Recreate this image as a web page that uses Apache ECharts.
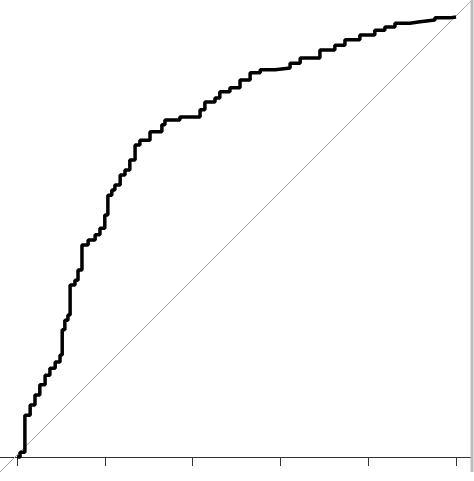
<!DOCTYPE html><html><head><meta charset="utf-8"><script src="https://cdn.jsdelivr.net/npm/echarts@6/dist/echarts.min.js"></script>
<style>html,body{margin:0;padding:0;background:#fff}#c{width:474px;height:481px}</style></head><body><div id="c"></div><script>
const fpr=[0,.007,.018,.018,.030,.041,.052,.064,.075,.087,.098,.103,.109,.116,.121,.132,.139,.148,.148,.162,.178,.189,.200,.207,.216,.223,.235,.246,.257,.269,.280,.303,.330,.337,.371,.417,.428,.451,.462,.485,.508,.531,.554,.588,.622,.645,.690,.724,.747,.781,.815,.838,.861,.895,.918,.952,.986,1];
const tpr=[0,.011,.016,.095,.118,.141,.164,.186,.202,.216,.232,.289,.311,.323,.391,.402,.425,.443,.482,.493,.505,.520,.550,.595,.607,.618,.641,.652,.675,.709,.720,.739,.755,.766,.773,.789,.807,.816,.830,.839,.857,.873,.880,.884,.895,.907,.925,.936,.948,.959,.970,.977,.986,.989,.993,.998,1,1];
const xTicks=[0,0.2,0.4,0.6,0.8,1];
const lo=-0.0387,hi=1.0364,ylo=-0.034,yhi=1.0386;
const chart=echarts.init(document.getElementById('c'));
chart.setOption({animation:false,
grid:{left:0,right:2,top:0,bottom:9,containLabel:false,outerBoundsMode:'none'},
xAxis:{type:'value',min:lo,max:hi,axisLabel:{show:false},splitLine:{show:false},
 axisLine:{lineStyle:{color:'#333',width:1}},axisTick:{show:true,length:9,lineStyle:{color:'#333'},customValues:xTicks}},
yAxis:{type:'value',min:ylo,max:yhi,axisLabel:{show:false},splitLine:{show:false},axisTick:{show:false},axisLine:{show:false}},
series:[
{type:'line',data:[[lo,ylo],[hi,yhi]],symbol:'none',lineStyle:{color:'#aaa',width:1}},
{type:'line',data:[[hi,ylo],[hi,yhi]],symbol:'none',lineStyle:{color:'#bbb',width:3}},
{type:'line',step:'end',data:fpr.map((v,i)=>[v,tpr[i]]),symbol:'none',lineStyle:{color:'#000',width:3.5}}
]});
</script></body></html>
